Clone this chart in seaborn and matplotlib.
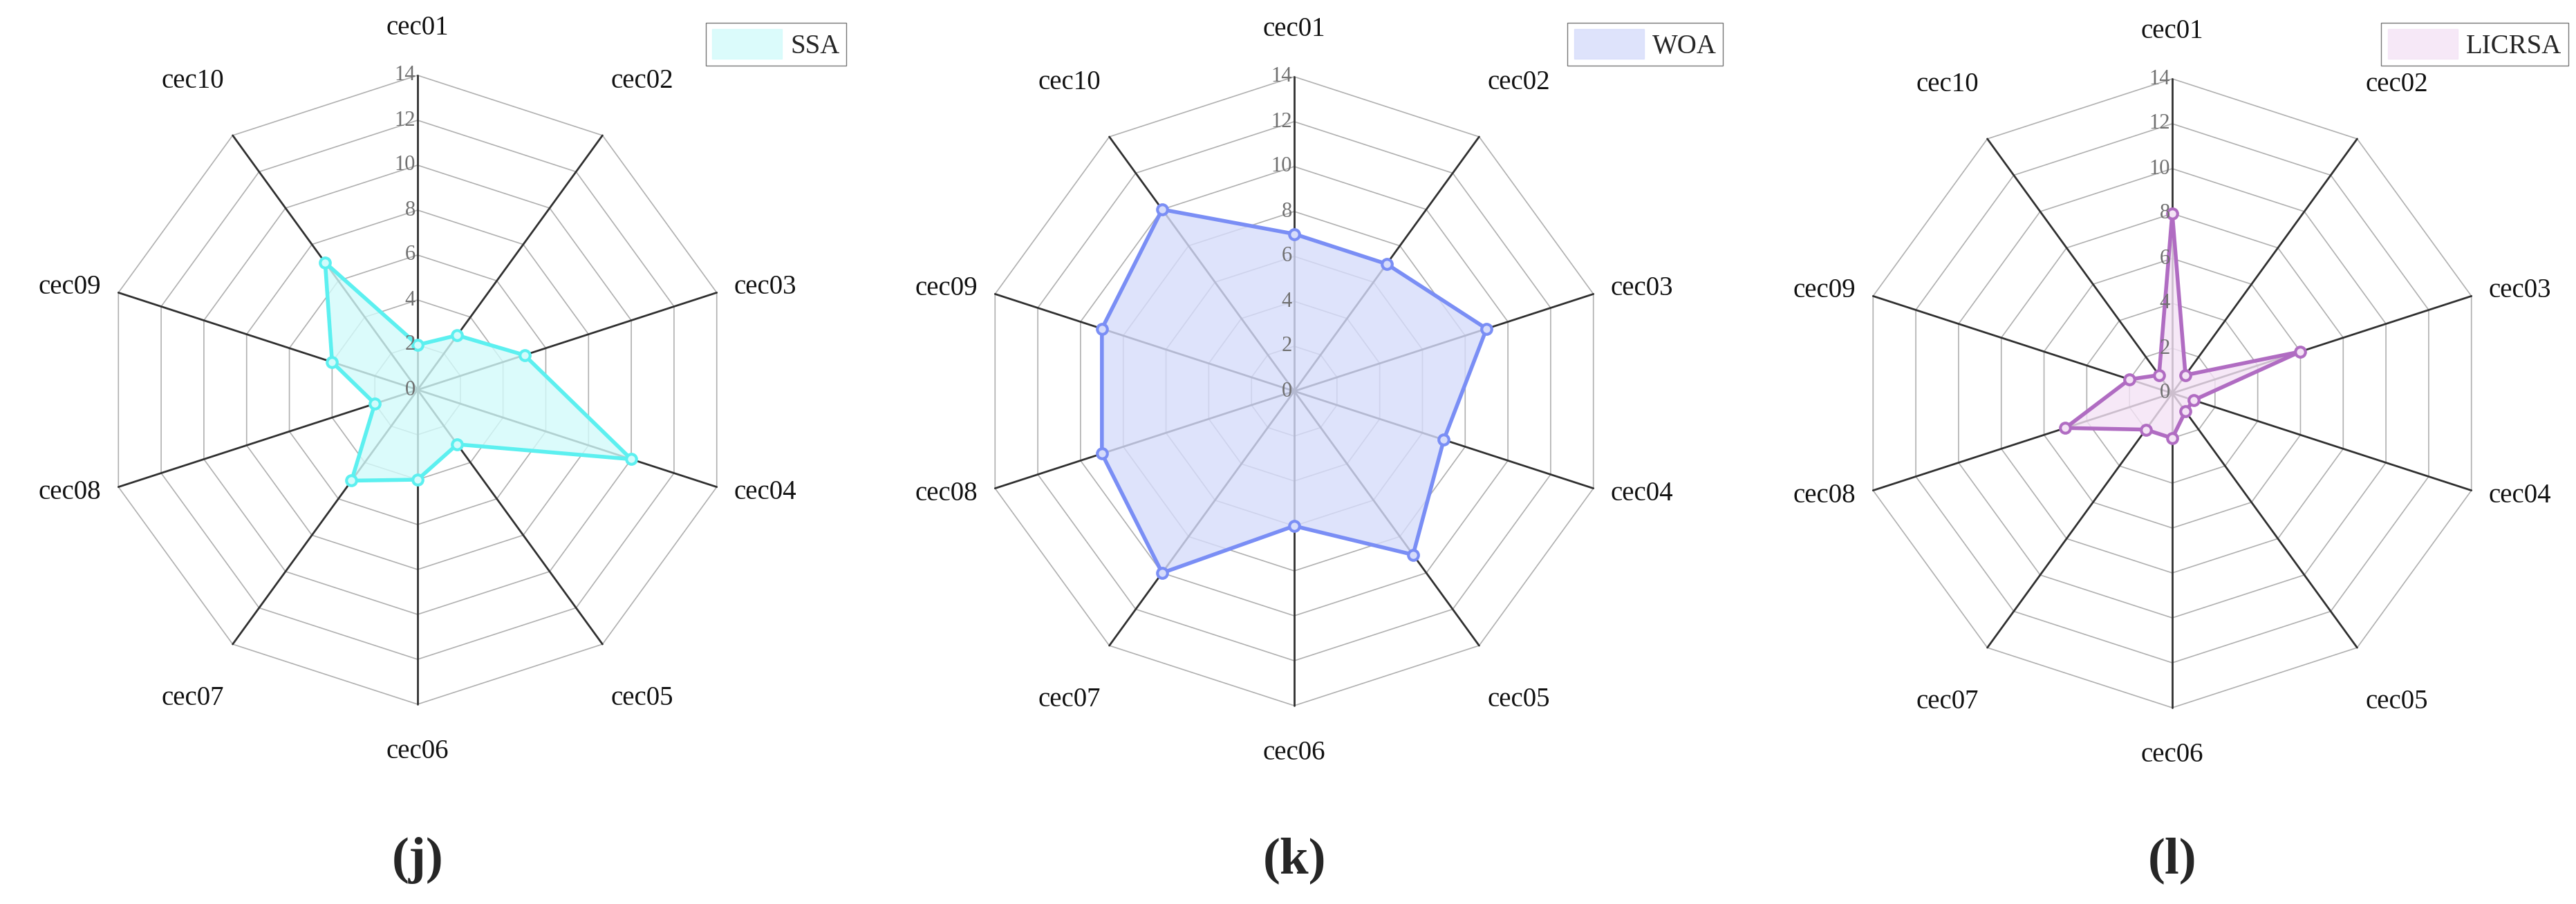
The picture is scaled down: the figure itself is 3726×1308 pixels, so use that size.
import numpy as np
import pandas as pd
import matplotlib
matplotlib.use("Agg")
import matplotlib.pyplot as plt
import seaborn as sns

categories = ["cec01", "cec02", "cec03", "cec04", "cec05",
              "cec06", "cec07", "cec08", "cec09", "cec10"]
ssa = [2, 3, 5, 10, 3, 4, 5, 2, 4, 7]
woa = [7, 7, 9, 7, 9, 6, 10, 9, 9, 10]
licrsa = [8, 1, 6, 1, 1, 2, 2, 5, 2, 1]
series_names = ["SSA", "WOA", "LICRSA"]
panel_labels = ["(j)", "(k)", "(l)"]
ticks = [0, 2, 4, 6, 8, 10, 12, 14]

line_colors = ["#5cf0f0", "#7a8ef5", "#b06cc2"]
fill_colors = ["#d3fbfb", "#d6dcfb", "#f4e3f6"]

sns.set_style("white")
plt.rcParams["font.family"] = ["Liberation Serif", "DejaVu Serif"]

W, H = 3726, 1308
fig = plt.figure(figsize=(W / 100, H / 100), dpi=100)
centers = [(604, 564), (1872, 566), (3142, 569)]
legend_x = [1.0, 1.0, 0.962]
ppu = 455 / 14.0
n = len(categories)
ang = np.pi / 2 - np.arange(n) * 2 * np.pi / n

for k, (vals, name) in enumerate(zip([ssa, woa, licrsa], series_names)):
    cx, cy = centers[k]
    ax = fig.add_axes([(cx - 620) / W, 0, 1240 / W, 1])
    ax.set_xlim(-620 / ppu, 620 / ppu)
    ax.set_ylim(-(H - cy) / ppu, cy / ppu)
    ax.axis("off")
    for t in ticks[1:]:
        xs = np.append(t * np.cos(ang), t * np.cos(ang[0]))
        ys = np.append(t * np.sin(ang), t * np.sin(ang[0]))
        ax.plot(xs, ys, color="#b0b0b0", lw=1.2, zorder=1)
    for a in ang:
        ax.plot([0, 14 * np.cos(a)], [0, 14 * np.sin(a)], color="#303030", lw=2, zorder=1)
    df = pd.DataFrame({"cat": categories, "v": vals,
                       "x": np.array(vals) * np.cos(ang),
                       "y": np.array(vals) * np.sin(ang)})
    ax.fill(df["x"], df["y"], color=fill_colors[k], alpha=0.8, zorder=2, label=name)
    closed = pd.concat([df, df.iloc[:1]], ignore_index=True)
    ax.plot(closed["x"], closed["y"], color=line_colors[k], lw=4, zorder=3)
    sns.scatterplot(data=df, x="x", y="y", ax=ax, s=110, color=fill_colors[k],
                    edgecolor=line_colors[k], linewidth=3, zorder=4, legend=False)
    for t in ticks:
        ax.text(-0.1, t, str(t), ha="right", va="center", fontsize=22,
                color="#707070", zorder=5)
    for c, a in zip(categories, ang):
        ca, sa = np.cos(a), np.sin(a)
        if abs(ca) < 0.1:
            r, ha = 16.1, "center"
        elif abs(ca) < 0.7:
            r, ha = 17.0, "center"
        else:
            r, ha = 14.8, ("left" if ca > 0 else "right")
        ax.text(r * ca, r * sa, c, ha=ha, va="center", fontsize=28, color="#111111")
    ax.text(0, -(1245 - cy) / ppu, panel_labels[k], ha="center", va="center",
            fontsize=54, fontweight="bold")
    ax.legend(loc="upper right", bbox_to_anchor=(legend_x[k], 0.975),
              fontsize=28, frameon=True, fancybox=False, edgecolor="#555555",
              handlelength=2.6, handleheight=1.3, borderpad=0.25, handletextpad=0.3,
              borderaxespad=0)

fig.savefig("out.png", dpi=100, facecolor="white")
